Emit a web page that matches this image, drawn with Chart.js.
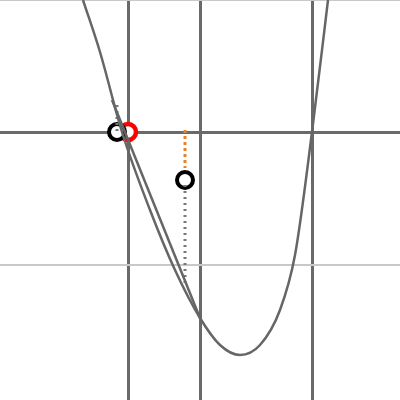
<!DOCTYPE html>
<html lang="en">
<head>
<meta charset="UTF-8">
<script src="https://cdn.jsdelivr.net/npm/chart.js"></script>
<style>
    html, body { margin: 0; padding: 0; background: #fff; }
    #wrap { width: 400px; height: 400px; }
</style>
</head>
<body>
<div id="wrap"><canvas id="c"></canvas></div>
<script>
const curveX = [83, 100, 122, 150, 175, 200, 220, 240, 260, 280, 295, 312, 328];
const curveY = [0, 52, 132, 210, 270, 318, 345, 355, 345, 310, 255, 132, 0];
const chordX = [112, 200];
const chordY = [100, 318];
const ringX = [117, 185];
const ringY = [132, 180];
const redX = [128];
const redY = [132];
const gridX = [128, 200, 312];
const gridY = [0, 132, 265];

const pts = (xs, ys) => xs.map((x, i) => ({ x: x, y: ys[i] }));

new Chart(document.getElementById('c'), {
    type: 'scatter',
    data: {
        datasets: [
            { data: pts(curveX, curveY), showLine: true, borderColor: '#666', borderWidth: 2.5, pointRadius: 0, cubicInterpolationMode: 'monotone' },
            { data: pts(chordX, chordY), showLine: true, borderColor: '#666', borderWidth: 2.5, pointRadius: 0 },
            { data: [{ x: 117, y: 105 }, { x: 117, y: 132 }], showLine: true, borderColor: '#777', borderWidth: 3, borderDash: [2, 4], pointRadius: 0 },
            { data: [{ x: 185, y: 185 }, { x: 185, y: 285 }], showLine: true, borderColor: '#777', borderWidth: 3, borderDash: [2, 4], pointRadius: 0 },
            { data: [{ x: 185, y: 130 }, { x: 185, y: 168 }], showLine: true, borderColor: '#e8812c', borderWidth: 3, borderDash: [3, 3], pointRadius: 0 },
            { data: pts(ringX, ringY), pointRadius: 8, pointBorderWidth: 4, pointBorderColor: '#000', pointBackgroundColor: '#fff' },
            { data: pts(redX, redY), pointRadius: 8, pointBorderWidth: 4.5, pointBorderColor: '#f00', pointBackgroundColor: '#fff' }
        ]
    },
    options: {
        responsive: true,
        maintainAspectRatio: false,
        animation: false,
        layout: { padding: 0, autoPadding: false },
        plugins: { legend: { display: false }, tooltip: { enabled: false } },
        scales: {
            x: {
                type: 'linear', min: 0, max: 400,
                afterBuildTicks: s => { s.ticks = gridX.map(v => ({ value: v })); },
                ticks: { display: false },
                border: { display: false },
                grid: { drawTicks: false, color: '#6a6a6a', lineWidth: 3 }
            },
            y: {
                type: 'linear', min: 0, max: 400, reverse: true,
                afterBuildTicks: s => { s.ticks = gridY.map(v => ({ value: v })); },
                ticks: { display: false },
                border: { display: false },
                grid: {
                    drawTicks: false,
                    color: c => c.tick && c.tick.value === 132 ? '#6a6a6a' : '#c8c8c8',
                    lineWidth: c => c.tick && c.tick.value === 132 ? 3 : 2
                }
            }
        }
    }
});
</script>
</body>
</html>
